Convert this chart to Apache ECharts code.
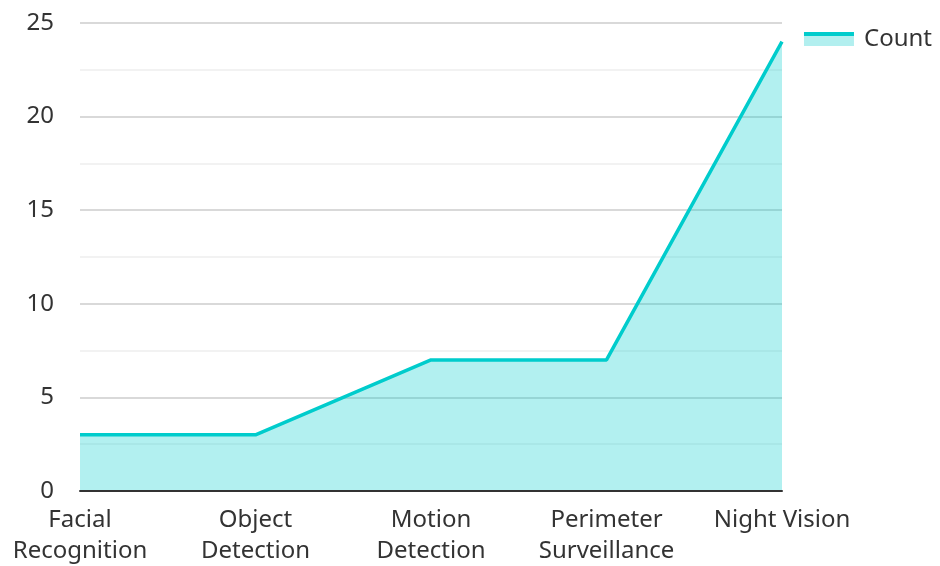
<!DOCTYPE html>
<html>
<head>
<meta charset="utf-8">
<script src="https://cdn.jsdelivr.net/npm/echarts@6/dist/echarts.min.js"></script>
<style>
  html, body { margin: 0; padding: 0; background: #fff; }
  #chart { width: 940px; height: 566px; }
</style>
</head>
<body>
<div id="chart"></div>
<script>
// Camera feature counts
const categories = ['Facial\nRecognition', 'Object\nDetection', 'Motion\nDetection', 'Perimeter\nSurveillance', 'Night Vision'];
const countValues = [3, 3, 7, 7, 24];
const seriesName = 'Count';

const font = '"Noto Sans", "Open Sans", sans-serif';
const lineColor = '#00cccc';

const chart = echarts.init(document.getElementById('chart'));

// Legend swatch: solid line strip on top, translucent area below
const legendSwatch = new echarts.graphic.LinearGradient(0, 0, 0, 1, [
  { offset: 0, color: lineColor },
  { offset: 0.3, color: lineColor },
  { offset: 0.3, color: '#b2efef' },
  { offset: 1, color: '#b2efef' }
]);

chart.setOption({
  animation: false,
  textStyle: { fontFamily: font },
  legend: {
    right: 3,
    top: 22,
    icon: 'rect',
    itemWidth: 50,
    itemHeight: 14,
    textStyle: { fontSize: 24, color: '#333', fontFamily: font, padding: [0, 0, 12, 5] },
    data: [{ name: seriesName, itemStyle: { color: legendSwatch } }]
  },
  grid: { left: 80, right: 158, top: 23, bottom: 75, outerBoundsMode: 'none', containLabel: false },
  xAxis: {
    type: 'category',
    data: categories,
    boundaryGap: false,
    z: 3,
    axisLine: { lineStyle: { color: '#333', width: 2 } },
    axisTick: { show: false },
    axisLabel: { fontSize: 24, color: '#333', lineHeight: 31, margin: 14, interval: 0, fontFamily: font },
    splitLine: { show: false }
  },
  yAxis: {
    type: 'value',
    min: 0,
    max: 25,
    interval: 5,
    axisLine: { show: false },
    axisTick: { show: false },
    axisLabel: { fontSize: 24, color: '#333', margin: 26, fontFamily: font },
    splitLine: { lineStyle: { color: '#ccc', width: 1.5 } },
    minorTick: { show: false, splitNumber: 2 },
    minorSplitLine: { show: true, lineStyle: { color: '#eee', width: 1.5 } }
  },
  series: [{
    name: seriesName,
    type: 'line',
    data: countValues,
    showSymbol: false,
    symbol: 'none',
    lineStyle: { color: lineColor, width: 3.5 },
    itemStyle: { color: lineColor },
    areaStyle: { color: lineColor, opacity: 0.3 }
  }]
});
</script>
</body>
</html>
